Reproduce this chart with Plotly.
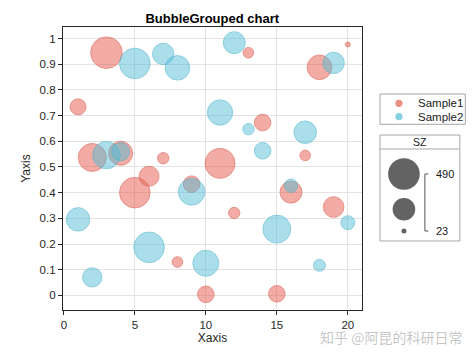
import math
import plotly.graph_objects as go

# ---------------- data ----------------
x_vals = list(range(1, 21))
sample1_y = [0.734, 0.537, 0.945, 0.553, 0.400, 0.464, 0.534, 0.130, 0.433, 0.004,
             0.514, 0.321, 0.945, 0.673, 0.006, 0.402, 0.545, 0.888, 0.344, 0.977]
sample1_sz = [134, 387, 490, 287, 460, 203, 73, 65, 143, 143,
              443, 73, 65, 143, 143, 243, 65, 301, 215, 23]
sample2_y = [0.296, 0.070, 0.546, 0.559, 0.903, 0.187, 0.940, 0.886, 0.403, 0.125,
             0.712, 0.984, 0.647, 0.563, 0.258, 0.427, 0.635, 0.117, 0.905, 0.283]
sample2_sz = [274, 191, 372, 166, 460, 460, 231, 301, 350, 335,
              320, 243, 73, 143, 387, 97, 256, 80, 231, 105]
series_names = ["Sample1", "Sample2"]
size_legend_title = "SZ"

# ---------------- styles ----------------
W, H = 474, 355
ML, MR, MT, MB = 62.5, 112, 27, 45
PW, PH = W - ML - MR, H - MT - MB
FONT = "Liberation Sans, Arial, sans-serif"
RED_FILL = "rgba(231,98,84,0.75)"
RED_LINE = "rgba(215,85,72,0.85)"
CYAN_FILL = "rgba(84,190,215,0.70)"
CYAN_LINE = "rgba(70,175,200,0.80)"
AX = "#262626"
D_MIN, D_MAX = 5.0, 31.6

all_sz = sample1_sz + sample2_sz
smin, smax = min(all_sz), max(all_sz)


def diam(s):
    f = (s - smin) / (smax - smin)
    return math.sqrt(D_MIN ** 2 + f * (D_MAX ** 2 - D_MIN ** 2))


def px(xp):
    return (xp - ML) / PW


def py(yp):
    return (H - MB - yp) / PH


fig = go.Figure()
fig.add_trace(go.Scatter(
    x=x_vals, y=sample1_y, mode="markers", name=series_names[0], showlegend=False,
    marker=dict(size=[diam(s) for s in sample1_sz], sizemode="diameter",
                color=RED_FILL, line=dict(color=RED_LINE, width=1)),
))
fig.add_trace(go.Scatter(
    x=x_vals, y=sample2_y, mode="markers", name=series_names[1], showlegend=False,
    marker=dict(size=[diam(s) for s in sample2_sz], sizemode="diameter",
                color=CYAN_FILL, line=dict(color=CYAN_LINE, width=1)),
))

shapes = []
annotations = []
BOX = "#a6a6a6"

# ---- series legend (manual) ----
shapes.append(dict(type="rect", xref="paper", yref="paper",
                   x0=px(380), x1=px(465.5), y0=py(124.3), y1=py(94),
                   line=dict(color=BOX, width=1), fillcolor="white", layer="above"))
for i, (yy, fc) in enumerate([(103.3, "rgba(231,98,84,0.7)"), (116.7, "rgba(84,190,215,0.7)")]):
    shapes.append(dict(type="circle", xref="paper", yref="paper",
                       xsizemode="pixel", ysizemode="pixel",
                       xanchor=px(399), yanchor=py(yy),
                       x0=-3.6, x1=3.6, y0=-3.6, y1=3.6,
                       fillcolor=fc, line=dict(width=0), layer="above"))
    annotations.append(dict(xref="paper", yref="paper", x=px(416), y=py(yy),
                            xanchor="left", yanchor="middle", showarrow=False,
                            text=series_names[i], font=dict(family=FONT, size=11.5, color="#1a1a1a")))

# ---- size legend ----
shapes.append(dict(type="rect", xref="paper", yref="paper",
                   x0=px(380), x1=px(460), y0=py(241), y1=py(135),
                   line=dict(color=BOX, width=1), fillcolor="white", layer="above"))
shapes.append(dict(type="line", xref="paper", yref="paper",
                   x0=px(380), x1=px(460), y0=py(149), y1=py(149),
                   line=dict(color=BOX, width=1), layer="above"))
annotations.append(dict(xref="paper", yref="paper", x=px(420), y=py(142),
                        xanchor="center", yanchor="middle", showarrow=False,
                        text=size_legend_title, font=dict(family=FONT, size=10.5, color="#1a1a1a")))
leg_vals = [smax, (smax + smin) / 2.0, smin]
leg_y = [174, 209.3, 231]
for v, yy in zip(leg_vals, leg_y):
    r = diam(v) / 2.0
    shapes.append(dict(type="circle", xref="paper", yref="paper",
                       xsizemode="pixel", ysizemode="pixel",
                       xanchor=px(404), yanchor=py(yy),
                       x0=-r, x1=r, y0=-r, y1=r,
                       fillcolor="#636363", line=dict(width=0), layer="above"))
BR = "#555555"
shapes.append(dict(type="line", xref="paper", yref="paper",
                   x0=px(425), x1=px(425), y0=py(174), y1=py(231),
                   line=dict(color=BR, width=1), layer="above"))
for yy in (174, 231):
    shapes.append(dict(type="line", xref="paper", yref="paper",
                       x0=px(425), x1=px(428.5), y0=py(yy), y1=py(yy),
                       line=dict(color=BR, width=1), layer="above"))
for v, yy in ((smax, 174), (smin, 231)):
    annotations.append(dict(xref="paper", yref="paper", x=px(434), y=py(yy),
                            xanchor="left", yanchor="middle", showarrow=False,
                            text=str(int(round(v))), font=dict(family=FONT, size=11, color="#1a1a1a")))

# ---- watermark ----
annotations.append(dict(xref="paper", yref="paper", x=px(391), y=py(337),
                        xanchor="center", yanchor="middle", showarrow=False,
                        text="知乎 @阿昆的科研日常",
                        font=dict(family="Noto Sans CJK SC", size=14, color="rgba(160,160,160,0.6)")))

axis_common = dict(showline=True, mirror=True, linecolor=AX, linewidth=1.3,
                   ticks="outside", ticklen=4, tickcolor=AX, tickwidth=1,
                   showgrid=True, gridcolor="#e3e3e3", gridwidth=1, zeroline=False,
                   automargin=False,
                   tickfont=dict(family=FONT, size=11.5, color=AX))

fig.update_layout(
    width=W, height=H,
    margin=dict(l=ML, r=MR, t=MT, b=MB, pad=0, autoexpand=False),
    paper_bgcolor="white", plot_bgcolor="white",
    showlegend=False,
    title=dict(text="BubbleGrouped chart", x=(ML + PW / 2) / W, xanchor="center",
               y=1 - 18.5 / H, yanchor="middle", yref="container",
               font=dict(family=FONT, size=13, color="#000000", weight="bold")),
    xaxis=dict(range=[-0.06, 21.0], tickmode="array", tickvals=[0, 5, 10, 15, 20],
               title=dict(text="Xaxis", standoff=3, font=dict(family=FONT, size=12, color=AX)),
               **axis_common),
    yaxis=dict(range=[-0.057, 1.045], tickmode="array",
               tickvals=[i / 10 for i in range(11)],
               ticktext=["0", "0.1", "0.2", "0.3", "0.4", "0.5", "0.6", "0.7", "0.8", "0.9", "1"],
               title=dict(text="Yaxis", standoff=6, font=dict(family=FONT, size=12, color=AX)),
               **axis_common),
    shapes=shapes,
    annotations=annotations,
)

fig.write_html("out.html",
               config={"displayModeBar": False},
               post_script="document.body.style.margin='0';document.body.style.overflow='hidden';")
